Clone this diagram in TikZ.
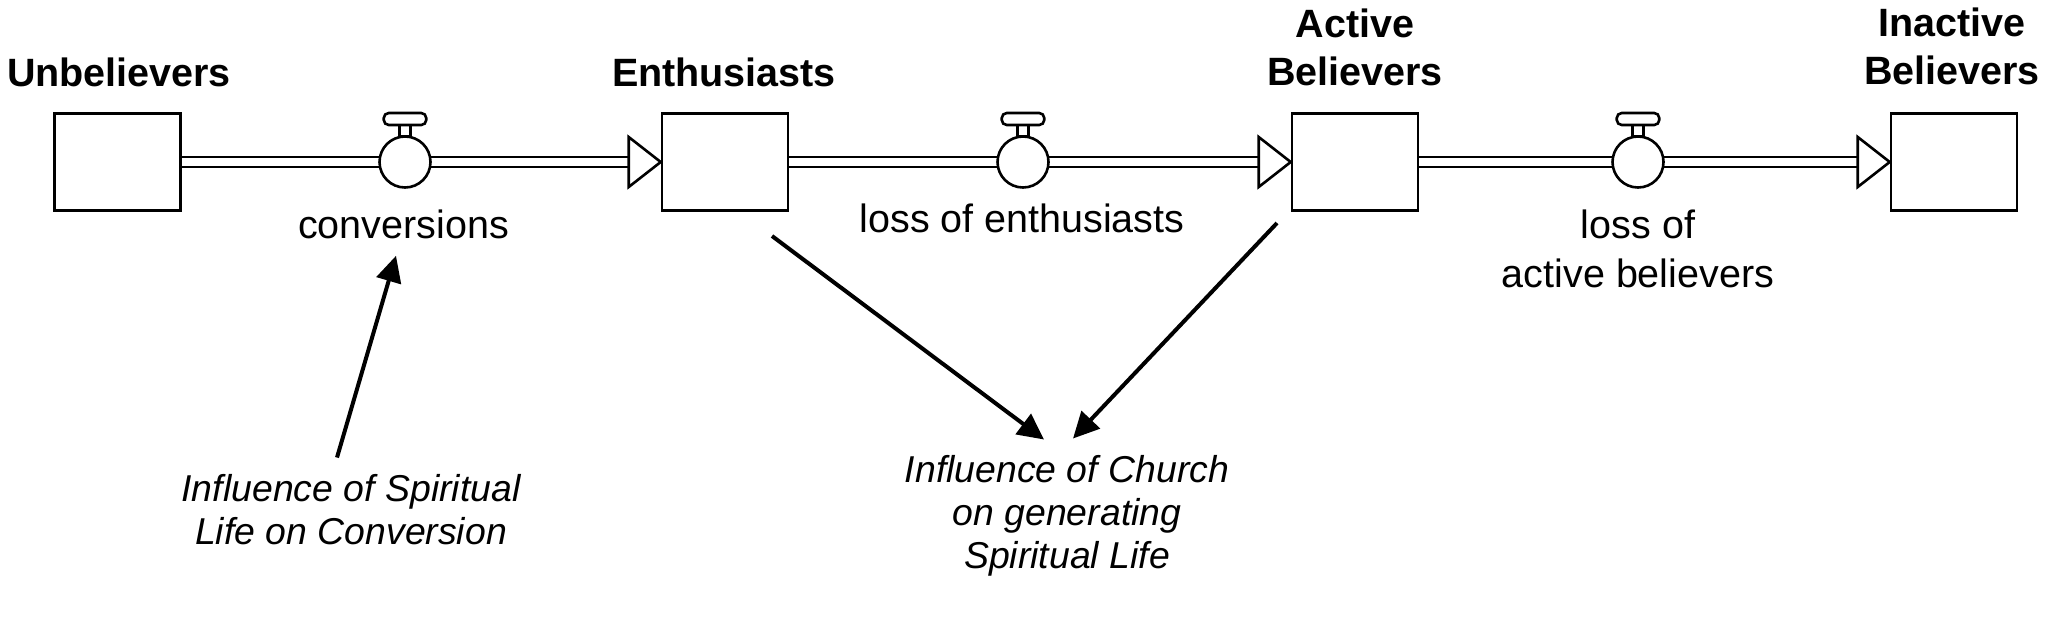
\documentclass[tikz,border=0pt]{standalone}
\usepackage{fontspec}
\setmainfont{Liberation Sans}
\usetikzlibrary{arrows.meta,positioning}

\tikzset{
  stock/.style={draw, line width=1.3pt, minimum width=63pt, minimum height=48.7pt, inner sep=0pt},
  valve/.style={circle, draw, fill=white, line width=1.3pt, minimum size=25.5pt, inner sep=0pt, outer sep=0pt},
  valvestem/.style={draw, fill=white, line width=1.3pt, minimum width=5.25pt, minimum height=5.75pt, inner sep=0pt, outer sep=0pt, anchor=south},
  valvehandle/.style={draw, fill=white, line width=1.3pt, rounded corners=2.5pt, minimum width=21.25pt, minimum height=6pt, inner sep=0pt, outer sep=0pt, anchor=south},
  pipe/.style={double, double distance=3.7pt, line width=1.3pt},
  pipetip/.style={draw, fill=white, line width=1.3pt, line join=miter},
  stockname/.style={font=\fontsize{19.75pt}{24pt}\selectfont\bfseries, align=center, anchor=base, inner sep=0pt},
  ratename/.style={font=\fontsize{19.75pt}{24.5pt}\selectfont, align=center, anchor=base, inner sep=0pt},
  auxname/.style={font=\fontsize{18.7pt}{21.5pt}\selectfont\itshape, align=center, anchor=base, inner sep=0pt},
  link/.style={line width=2pt, -{Triangle[length=13pt, width=12.5pt]}},
}

\begin{document}
\begin{tikzpicture}[x=0.5pt, y=-0.5pt]
  \useasboundingbox (0,0) rectangle (2048,623);

  % Stocks (pixel coordinates, y downwards)
  \node[stock] (unb) at (117.5,162) {};
  \node[stock] (ent) at (725,162) {};
  \node[stock] (act) at (1355,162) {};
  \node[stock] (ina) at (1954,162) {};

  % Stock names (base = last line)
  \node[stockname] (unbname) at (119,86.7) {Unbelievers};
  \node[stockname] (entname) at (724,86.5) {Enthusiasts};
  \node[stockname] (actname) at (1355,85) {Active\\Believers};
  \node[stockname] (inaname) at (1952,84) {Inactive\\Believers};

  % Pipes, stock to stock; the valves sit on top of them
  \draw[pipe] (unb.east) -- ([shift={(-32,0)}]ent.west);
  \draw[pipetip] ([shift={(-32,-25)}]ent.west) -- (ent.west) -- ([shift={(-32,25)}]ent.west) -- cycle;
  \draw[pipe] (ent.east) -- ([shift={(-32,0)}]act.west);
  \draw[pipetip] ([shift={(-32,-25)}]act.west) -- (act.west) -- ([shift={(-32,25)}]act.west) -- cycle;
  \draw[pipe] (act.east) -- ([shift={(-32,0)}]ina.west);
  \draw[pipetip] ([shift={(-32,-25)}]ina.west) -- (ina.west) -- ([shift={(-32,25)}]ina.west) -- cycle;

  % Valves
  \node[valve] (conv) at (405,162) {};
  \node[valvestem] (convstem) at (conv.north) {};
  \node[valvehandle] (convhandle) at (convstem.north) {};

  \node[valve] (lossent) at (1023,162) {};
  \node[valvestem] (lossentstem) at (lossent.north) {};
  \node[valvehandle] (lossenthandle) at (lossentstem.north) {};

  \node[valve] (lossact) at (1638,162) {};
  \node[valvestem] (lossactstem) at (lossact.north) {};
  \node[valvehandle] (lossacthandle) at (lossactstem.north) {};

  % Rate names
  \node[ratename] (convtext) at (403.5,238.5) {conversions};
  \node[ratename] (lossenttext) at (1022,232.5) {loss of enthusiasts};
  \node[ratename] (lossacttext) at (1638,287) {loss of\\active believers};

  % Auxiliaries
  \node[auxname] (spiritinfl) at (351,544) {Influence of Spiritual\\Life on Conversion};
  \node[auxname] (churchinfl) at (1067,568) {Influence of Church\\on generating\\Spiritual Life};

  % Links
  \draw[link] ([shift={(-14,-16)}]spiritinfl.north) -- ([shift={(-7.5,16.5)}]convtext.south);
  \draw[link] ([shift={(-17.3,24)}]ent.south east) -- ([shift={(-23,-15)}]churchinfl.north);
  \draw[link] ([shift={(-13.7,11)}]act.south west) -- ([shift={(6,-16)}]churchinfl.north);

\end{tikzpicture}
\end{document}
